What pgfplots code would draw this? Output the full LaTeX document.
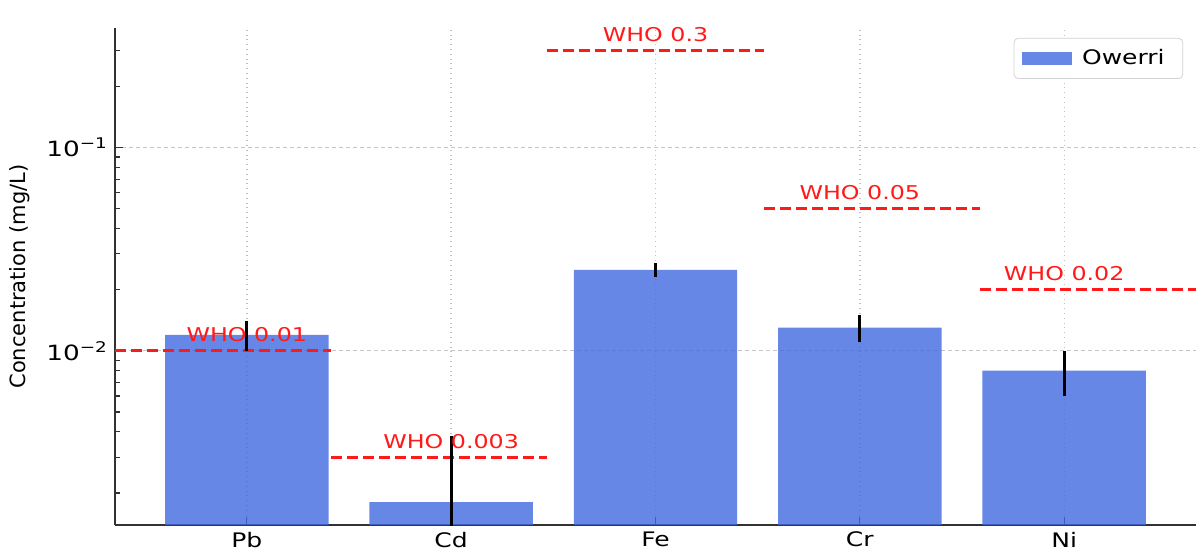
\documentclass[border=0pt]{standalone}
\usepackage{fontspec}
\setmainfont{DejaVu Sans}[FakeStretch=1.25]
\newfontfamily\ylfont{DejaVu Sans}
\usepackage{pgfplots}
\pgfplotsset{compat=1.18}
\definecolor{royal}{RGB}{65,105,225}
\definecolor{whored}{RGB}{255,25,25}
\definecolor{spine}{RGB}{50,50,50}
\begin{document}
\begin{tikzpicture}
\path[use as bounding box] (-57.5pt,-13.5pt) rectangle (542.5pt,262.5pt);
\begin{axis}[
  at={(0,0)}, anchor=south west,
  scale only axis, width=540.5pt, height=248.5pt,
  ymode=log, log origin y=infty,
  xmin=-0.645, xmax=4.645, ymin=0.00139, ymax=0.388,
  axis x line*=bottom, axis y line*=left,
  axis line style={spine, line width=0.8pt},
  xtick={0,1,2,3,4}, xticklabels={Pb,Cd,Fe,Cr,Ni},
  ytick={0.01,0.1}, yticklabels={10\textsuperscript{−2},10\textsuperscript{−1}},
  minor ytick={0.002,0.003,0.004,0.005,0.006,0.007,0.008,0.009,0.02,0.03,0.04,0.05,0.06,0.07,0.08,0.09,0.2,0.3},
  tick align=inside, major tick length=4pt, minor tick length=2.5pt,
  tick style={spine, line width=0.6pt},
  xticklabel style={font=\fontsize{10}{12}\selectfont},
  yticklabel style={font=\fontsize{10.5}{12}\selectfont},
  xmajorgrids, ymajorgrids,
  x grid style={gray!50, dotted, line width=0.7pt},
  y grid style={gray!45, dash pattern=on 2pt off 1.5pt, line width=0.5pt},
  every axis y label/.style={at={(axis description cs:-0.0786,0.5)}, rotate=90, anchor=south, inner sep=0pt, font={\ylfont\fontsize{10.5}{12}\selectfont}},
  ylabel={Concentration (mg/L)},
  legend style={at={(axis description cs:0.988,0.98)}, anchor=north east, draw=gray!35, rounded corners=2pt, fill=white, font=\fontsize{10}{12}\selectfont, inner xsep=4pt, inner ysep=3.5pt, nodes={inner xsep=5pt}},
  legend image code/.code={\fill[royal, fill opacity=0.8, sharp corners] (0pt,-3.25pt) rectangle (25pt,3.25pt);},
]
% bars
\addplot[ybar, bar width=0.8, fill=royal, fill opacity=0.8, draw=none]
  coordinates {(0,0.012) (1,0.0018) (2,0.025) (3,0.013) (4,0.008)};
\addlegendentry{Owerri}
% WHO limits
\pgfplotsset{who/.style={whored, dash pattern=on 5.5pt off 2.5pt, line width=1.5pt, forget plot}}
\addplot[who] coordinates {(-0.645,0.01) (0.413,0.01)};
\addplot[who] coordinates {(0.413,0.003) (1.471,0.003)};
\addplot[who] coordinates {(1.471,0.3) (2.529,0.3)};
\addplot[who] coordinates {(2.529,0.05) (3.587,0.05)};
\addplot[who] coordinates {(3.587,0.02) (4.645,0.02)};
% WHO labels
\addplot[draw=none, forget plot, nodes near coords, point meta=explicit symbolic,
  every node near coord/.append style={anchor=south, inner sep=0pt, text=whored, font=\fontsize{9.5}{10}\selectfont}]
  coordinates {(0,0.011) [WHO 0.01] (1,0.0033) [WHO 0.003] (2,0.33) [WHO 0.3] (3,0.055) [WHO 0.05] (4,0.022) [WHO 0.02]};
% error bars
\addplot[draw=none, forget plot, error bars/.cd, y dir=both, y explicit, error mark=none,
  error bar style={draw=black, solid, line width=1.6pt}]
  coordinates {(0,0.012) += (0,0.002) -= (0,0.002)
               (1,0.0018) += (0,0.002) -= (0,0.0017)
               (2,0.025) += (0,0.002) -= (0,0.002)
               (3,0.013) += (0,0.002) -= (0,0.002)
               (4,0.008) += (0,0.002) -= (0,0.002)};
\end{axis}
\end{tikzpicture}
\end{document}
